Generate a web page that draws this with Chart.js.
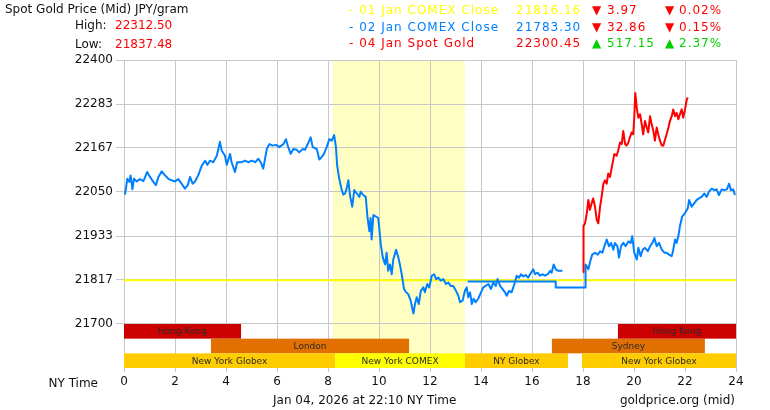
<!DOCTYPE html>
<html><head><meta charset="utf-8">
<script src="https://cdn.jsdelivr.net/npm/chart.js@4/dist/chart.umd.min.js"></script>
<style>html,body{margin:0;padding:0;background:#fff;}#wrap{width:770px;height:410px;position:relative;}</style>
</head><body><div id="wrap"><canvas id="c" width="770" height="410"></canvas></div>
<script>
// ---------- data ----------
const yTickValues = [21700, 21816.67, 21933.33, 22050, 22166.67, 22283.33, 22400];
const yAxisMin = 21583.33, yAxisMax = 22400;
const xTickStep = 2;

const comexClose01 = 21816.16;

const blueAHours = [0.04,0.13,0.21,0.26,0.33,0.39,0.50,0.63,0.76,0.91,1.02,1.15,1.25,1.35,1.48,1.61,1.74,1.87,2.00,2.13,2.26,2.39,2.50,2.59,2.69,2.78,2.91,3.05,3.18,3.27,3.37,3.50,3.64,3.70,3.76,3.83,3.96,4.03,4.16,4.22,4.35,4.44,4.62,4.75,4.87,5.01,5.14,5.27,5.36,5.46,5.53,5.60,5.70,5.83,5.96,6.09,6.25,6.35,6.44,6.54,6.64,6.77,6.87,7.01,7.10,7.23,7.32,7.40,7.56,7.66,7.75,7.84,7.95,8.05,8.15,8.24,8.31,8.36,8.44,8.54,8.60,8.67,8.73,8.80,8.86,8.95,9.03,9.13,9.23,9.28,9.38,9.48,9.54,9.62,9.67,9.71,9.78,9.88,9.97,10.07,10.15,10.24,10.30,10.36,10.43,10.50,10.56,10.67,10.76,10.82,10.89,10.98,11.06,11.15,11.24,11.35,11.41,11.48,11.56,11.64,11.74,11.80,11.89,11.97,12.07,12.16,12.24,12.33,12.42,12.52,12.63,12.72,12.81,12.91,13.02,13.11,13.18,13.28,13.37,13.44,13.50,13.57,13.64,13.71,13.79,13.89,14.00,14.09,14.18,14.29,14.39,14.48,14.58,14.65,14.75,14.84,14.94,15.01,15.10,15.20,15.31,15.40,15.49,15.57,15.66,15.75,15.85,15.96,16.05,16.12,16.22,16.31,16.40,16.51,16.62,16.71,16.77,16.85,16.93,17.03,17.19];
const blueAValues = [22043,22085,22077,22094,22057,22085,22078,22084,22079,22103,22090,22077,22068,22090,22105,22094,22085,22081,22078,22084,22072,22059,22068,22090,22072,22077,22094,22120,22133,22122,22133,22129,22146,22164,22183,22160,22146,22122,22151,22129,22103,22129,22129,22133,22129,22133,22129,22138,22129,22112,22138,22164,22177,22173,22175,22169,22177,22190,22169,22151,22164,22162,22155,22164,22162,22181,22195,22169,22164,22136,22142,22151,22169,22190,22186,22201,22170,22120,22085,22055,22043,22046,22059,22081,22042,22011,22055,22046,22037,22051,22042,22037,21989,21946,21981,21924,21989,21985,21981,21911,21876,21858,21889,21841,21858,21832,21871,21897,21876,21858,21832,21793,21784,21779,21762,21728,21753,21771,21753,21788,21797,21784,21806,21797,21828,21832,21819,21823,21815,21819,21806,21810,21801,21801,21788,21775,21758,21762,21788,21797,21771,21784,21753,21767,21758,21767,21784,21797,21801,21806,21793,21810,21801,21819,21801,21793,21784,21775,21788,21784,21806,21828,21823,21832,21826,21830,21823,21836,21845,21832,21836,21828,21832,21828,21832,21841,21836,21858,21845,21841,21841];

const blueBHours = [13.48,16.93,16.93,18.10,18.10,18.21,18.27,18.36,18.47,18.58,18.67,18.76,18.84,18.93,19.02,19.10,19.19,19.25,19.35,19.41,19.49,19.58,19.67,19.78,19.87,19.93,20.01,20.11,20.17,20.26,20.34,20.43,20.54,20.63,20.72,20.80,20.89,20.98,21.09,21.19,21.28,21.37,21.48,21.54,21.61,21.67,21.74,21.80,21.89,22.00,22.11,22.16,22.26,22.36,22.46,22.55,22.65,22.76,22.85,22.94,23.05,23.15,23.24,23.33,23.44,23.54,23.64,23.73,23.80,23.89,23.96];
const blueBValues = [21813,21813,21797,21797,21858,21845,21863,21884,21889,21884,21893,21889,21906,21924,21906,21915,21897,21915,21906,21876,21906,21915,21906,21919,21915,21933,21889,21871,21902,21880,21897,21902,21893,21906,21915,21928,21906,21915,21897,21889,21889,21884,21880,21897,21924,21915,21933,21959,21985,21994,22007,22029,22011,22020,22029,22033,22037,22046,22037,22051,22059,22055,22057,22042,22057,22055,22057,22072,22055,22057,22042];

const redHours = [18.00,18.02,18.08,18.15,18.21,18.27,18.34,18.40,18.47,18.54,18.60,18.67,18.73,18.80,18.86,18.93,18.99,19.06,19.13,19.23,19.32,19.38,19.45,19.52,19.58,19.65,19.71,19.78,19.84,19.91,19.97,20.01,20.05,20.11,20.17,20.24,20.30,20.36,20.43,20.50,20.56,20.63,20.69,20.76,20.82,20.89,20.95,21.02,21.09,21.15,21.22,21.28,21.35,21.41,21.48,21.54,21.61,21.67,21.74,21.80,21.87,21.93,22.00,22.07,22.11];
const redValues = [21837.48,21959,21967,21994,22029,22003,22020,22033,22011,21976,21967,22011,22037,22072,22081,22072,22099,22090,22116,22151,22146,22160,22181,22177,22212,22177,22173,22181,22195,22208,22203,22247,22312.5,22273,22247,22256,22230,22203,22238,22221,22208,22251,22230,22212,22186,22221,22203,22186,22173,22173,22190,22203,22221,22238,22251,22269,22251,22260,22243,22256,22269,22247,22269,22295,22300.45];

const comexBandStart = 8.18, comexBandEnd = 13.37;

const sessionNames = ['Hong Kong','London','New York Globex','New York COMEX','NY Globex','Sydney','New York Globex','Hong Kong'];
const sessionStart = [0, 3.41, 0, 8.28, 13.37, 16.78, 17.96, 19.37];
const sessionEnd   = [4.59, 11.18, 8.28, 13.37, 17.41, 22.78, 24, 24];
const sessionRow   = [0, 1, 2, 2, 2, 1, 2, 0];
const sessionKind  = ['asia','europe','globex','comex','globex','europe','globex','asia'];

const legendLabels = ['- 01 Jan COMEX Close','- 02 Jan COMEX Close','- 04 Jan Spot Gold'];
const legendPrices = ['21816.16','21783.30','22300.45'];
const legendChanges = ['3.97','32.86','517.15'];
const legendPcts = ['0.02%','0.15%','2.37%'];
const legendUp = [false,false,true];

const highText = '22312.50', lowText = '21837.48';
const titleText = 'Spot Gold Price (Mid) JPY/gram';
const dateText = 'Jan 04, 2026 at 22:10 NY Time';
const sourceText = 'goldprice.org (mid)';
const xAxisName = 'NY Time';

// ---------- styles ----------
const C_YEL = '#ffff00', C_BLUE = '#0080ff', C_RED = '#ff0000', C_GREEN = '#00d000';
const legendColors = [C_YEL, C_BLUE, C_RED];
const kindColors = {asia:'#cc0000', europe:'#e27000', globex:'#ffcc00', comex:'#ffff00'};
const GRID = '#c8c8c8';
const FONT = '"DejaVu Sans", Verdana, sans-serif';

function pts(h, v){ return h.map((x,i)=>({x:x, y:v[i]})); }

const decor = {
  id:'decor',
  beforeDraw(chart){
    const {ctx, chartArea:a, scales:{x}} = chart;
    ctx.save();
    ctx.fillStyle = '#fff'; ctx.fillRect(0,0,chart.width,chart.height);
    ctx.fillStyle = '#ffffc4';
    const x0 = x.getPixelForValue(comexBandStart), x1 = x.getPixelForValue(comexBandEnd);
    ctx.fillRect(x0, a.top, x1-x0, a.bottom-a.top);
    ctx.restore();
  },
  beforeDatasetsDraw(chart){
    const {ctx, chartArea:a, scales:{x,y}} = chart;
    const top = y.getPixelForValue(yTickValues[0]);
    const rh = (a.bottom - top)/3;
    ctx.save();
    ctx.font = '9px ' + FONT;
    ctx.textAlign = 'center'; ctx.textBaseline = 'middle';
    sessionNames.forEach((n,i)=>{
      const x0 = x.getPixelForValue(sessionStart[i]), x1 = x.getPixelForValue(sessionEnd[i]);
      const y0 = top + sessionRow[i]*rh;
      ctx.fillStyle = kindColors[sessionKind[i]];
      ctx.fillRect(x0, y0, x1-x0, rh);
      ctx.fillStyle = '#2a2a2a';
      ctx.fillText(n, (x0+x1)/2, y0 + rh/2 + 0.5);
    });
    ctx.restore();
  },
  afterDraw(chart){
    const {ctx} = chart;
    ctx.save();
    ctx.font = '12px ' + FONT;
    ctx.textBaseline = 'alphabetic';
    ctx.fillStyle = '#111'; ctx.textAlign = 'left';
    ctx.fillText(titleText, 5, 12.5);
    ctx.fillText('High:', 75, 29);
    ctx.fillText('Low:', 75, 47.5);
    ctx.fillStyle = C_RED;
    ctx.fillText(highText, 115, 29);
    ctx.fillText(lowText, 115, 47.5);
    // legend
    try { ctx.letterSpacing = '1px'; } catch(e) {}
    const rows = [14, 30.5, 47];
    legendLabels.forEach((l,i)=>{
      const yy = rows[i];
      ctx.fillStyle = legendColors[i];
      ctx.fillText(l, 349, yy);
      ctx.fillText(legendPrices[i], 516, yy);
      const col = legendUp[i] ? C_GREEN : C_RED;
      const tri = legendUp[i] ? '\u25B2' : '\u25BC';
      ctx.fillStyle = col;
      ctx.fillText(tri, 592, yy);
      ctx.fillText(legendChanges[i], 607, yy);
      ctx.fillText(tri, 665, yy);
      ctx.fillText(legendPcts[i], 679, yy);
    });
    try { ctx.letterSpacing = '0px'; } catch(e) {}
    ctx.fillStyle = '#111';
    ctx.textAlign = 'right';
    ctx.fillText(xAxisName, 98, 387);
    ctx.textAlign = 'left';
    ctx.fillText(dateText, 273, 404);
    ctx.textAlign = 'right';
    ctx.fillText(sourceText, 735, 404);
    ctx.restore();
  }
};

Chart.defaults.font.family = FONT;
Chart.defaults.font.size = 12;
Chart.defaults.color = '#111';

new Chart(document.getElementById('c'), {
  type:'line',
  data:{ datasets:[
    { label:'04 Jan Spot Gold', data:pts(redHours, redValues), borderColor:C_RED, borderWidth:2, order:1 },
    { label:'02 Jan COMEX', data:pts(blueAHours, blueAValues), borderColor:C_BLUE, borderWidth:2, order:2 },
    { label:'02 Jan COMEX b', data:pts(blueBHours, blueBValues), borderColor:C_BLUE, borderWidth:2, order:2 },
    { label:'01 Jan COMEX Close', data:[{x:0,y:comexClose01},{x:24,y:comexClose01}], borderColor:C_YEL, borderWidth:2, order:3 }
  ]},
  options:{
    responsive:false, animation:false, devicePixelRatio:1,
    parsing:false,
    elements:{ point:{radius:0, hoverRadius:0}, line:{tension:0, fill:false, borderJoinStyle:'round'} },
    layout:{ padding:{left:0, top:60, right:34, bottom:0} },
    plugins:{ legend:{display:false}, tooltip:{enabled:false} },
    scales:{
      x:{ type:'linear', min:0, max:24,
        ticks:{ stepSize:xTickStep, padding:3, maxRotation:0, color:'#111', font:{size:12} },
        grid:{ color:GRID, lineWidth:1, tickLength:4, drawTicks:true },
        border:{ display:false },
        afterFit(s){ s.height = 42; } },
      y:{ type:'linear', min:yAxisMin, max:yAxisMax,
        afterBuildTicks(s){ s.ticks = yTickValues.map(v=>({value:v})); },
        ticks:{ padding:3, color:'#111', font:{size:12}, callback:v=>String(Math.round(v)) },
        grid:{ color:GRID, lineWidth:1, tickLength:8, drawTicks:true },
        border:{ display:false },
        afterFit(s){ s.width = 124; } }
    }
  },
  plugins:[decor]
});
</script></body></html>
